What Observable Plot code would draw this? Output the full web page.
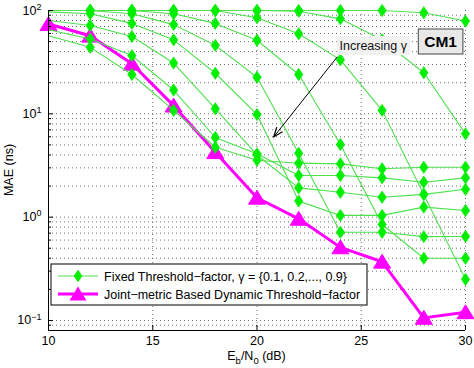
<!DOCTYPE html>
<html><head><meta charset="utf-8">
<script src="https://cdn.jsdelivr.net/npm/d3@7"></script>
<script src="https://cdn.jsdelivr.net/npm/@observablehq/plot@0.6"></script>
<style>
body{margin:0;background:#fff}
svg{font-family:"Liberation Sans",Arial,Helvetica,sans-serif}
</style>
</head><body><div id="chart"></div>
<script>
// ---- data ----
const snr = [10, 12, 14, 16, 18, 20, 22, 24, 26, 28, 30];          // Eb/N0 (dB)
const gammaLevels = [0.1, 0.2, 0.3, 0.4, 0.5, 0.6, 0.7, 0.8, 0.9];
const maeGamma01 = [57, 44, 24, 10.8, 4.75, 3.55, 3.33, 3.28, 2.94, 3.04, 3.04];
const maeGamma02 = [65, 53, 36.6, 17, 5.9, 4.1, 2.53, 2.53, 2.4, 2.18, 2.4];
const maeGamma03 = [80, 71.6, 56, 31, 11.2, 4.0, 1.92, 1.74, 1.56, 1.66, 1.86];
const maeGamma04 = [97, 93, 75, 52, 24.7, 9.84, 1.43, 1.04, 1.04, 1.25, 1.16];
const maeGamma05 = [100, 100, 93, 73, 46, 22.6, 4.16, 0.714, 0.714, 0.648, 0.65];
const maeGamma06 = [100, 100, 100, 93, 75, 51.5, 24, 5.05, 0.85, 0.40, 0.40];
const maeGamma07 = [100, 100, 100, 100, 100, 85, 59.5, 33.3, 10.8, 1.66, 0.25];
const maeGamma08 = [100, 100, 100, 100, 100, 100, 98.5, 83, 52, 25, 6.4];
const maeGamma09 = [100, 100, 100, 100, 100, 100, 100, 100, 100, 95, 79];
const maeJoint   = [74, 57, 30.5, 12, 4.25, 1.54, 0.963, 0.51, 0.37, 0.106, 0.12];
const xTicks = [10, 15, 20, 25, 30];
const yMajorTicks = [0.1, 1, 10, 100];
const yTickExponents = ["\u22121", "0", "1", "2"];
const legendLabels = [
  "Fixed Threshold\u2212factor, \u03b3 = {0.1, 0.2,..., 0.9}",
  "Joint\u2212metric Based Dynamic Threshold\u2212factor"
];
const annotationText = "Increasing \u03b3";
const boxText = "CM1";

// ---- derived tables ----
const fixedSeries = [maeGamma01, maeGamma02, maeGamma03, maeGamma04, maeGamma05,
                     maeGamma06, maeGamma07, maeGamma08, maeGamma09];
const fixedRows = fixedSeries.flatMap((s, i) => snr.map((x, j) => ({x, y: s[j], gamma: gammaLevels[i]})));
const jointRows = snr.map((x, j) => ({x, y: maeJoint[j]}));
const yDomain = [0.08, 100];
const minorY = [];
for (const dec of [0.01, 0.1, 1, 10]) for (let k = 1; k <= 9; k++) {
  const v = +(k * dec).toPrecision(3);
  if (v > yDomain[0] && v <= yDomain[1]) minorY.push(v);
}

// elongated diamond marker (MATLAB 'd') and up-triangle
const tallDiamond = {draw(ctx) { const w = 4.3, h = 6.2;
  ctx.moveTo(0, -h); ctx.lineTo(w, 0); ctx.lineTo(0, h); ctx.lineTo(-w, 0); ctx.closePath(); }};
const triangleUp = {draw(ctx) { const w = 8.5, h = 7.5;
  ctx.moveTo(0, -h); ctx.lineTo(w, h * 0.85); ctx.lineTo(-w, h * 0.85); ctx.closePath(); }};

const GREEN_LINE = "#4ee04e", GREEN_MARK = "#00ee00", MAGENTA = "#ff00ff";
const gridStyle = {stroke: "#555", strokeOpacity: 0.85, strokeDasharray: "1,3", strokeWidth: 1};

const chart = Plot.plot({
  width: 474, height: 368,
  marginLeft: 48, marginRight: 9, marginTop: 10, marginBottom: 38,
  style: {fontFamily: "Liberation Sans, Arial, sans-serif", fontSize: "12px", color: "#000", background: "#fff", overflow: "visible"},
  x: {domain: [10, 30]},
  y: {type: "log", domain: yDomain},
  marks: [
    Plot.ruleY(minorY, gridStyle),
    Plot.ruleX(xTicks.slice(1), gridStyle),
    Plot.line(jointRows, {x: "x", y: "y", stroke: MAGENTA, strokeWidth: 3}),
    Plot.dot(jointRows, {x: "x", y: "y", symbol: triangleUp, fill: MAGENTA, stroke: MAGENTA, strokeWidth: 1}),
    Plot.line(fixedRows, {x: "x", y: "y", z: "gamma", stroke: GREEN_LINE, strokeWidth: 1.1}),
    Plot.dot(fixedRows.filter(d => d.x > snr[0]), {x: "x", y: "y", symbol: tallDiamond, fill: GREEN_MARK, stroke: GREEN_MARK, strokeWidth: 0.5}),
    Plot.ruleX([10], {stroke: "#000"}),
    Plot.ruleY([yDomain[0]], {stroke: "#000"}),
    Plot.axisY({ticks: yMajorTicks, tickSize: -5, fill: "none", label: null}),
    Plot.axisY({ticks: minorY.filter(v => !yMajorTicks.includes(v)), tickSize: -3, fill: "none", label: null}),
    Plot.axisY({ticks: yMajorTicks, tickSize: 0, tickPadding: 7, label: null,
                tickFormat: d => "10^" + yTickExponents[yMajorTicks.indexOf(d)], fontSize: 12.5}),
    Plot.axisX({ticks: xTicks, tickSize: -5, fill: "none", label: null}),
    Plot.axisX({ticks: xTicks, tickSize: 0, tickPadding: 6, label: null, fontSize: 12.5})
  ]
});
document.getElementById("chart").appendChild(chart);

// ---- post: superscripts, labels, legend, annotations ----
const svg = d3.select(chart);
const xs = chart.scale("x"), ys = chart.scale("y");
const X = v => xs.apply(v), Y = v => ys.apply(v);

svg.selectAll('g[aria-label="y-axis tick label"] text').each(function() {
  const t = d3.select(this), s = t.text();
  if (!s.includes("^")) return;
  const [base, exp] = s.split("^");
  t.text(null);
  t.append("tspan").text(base);
  t.append("tspan").attr("dy", "-0.55em").attr("font-size", 9).text(exp);
});

// x label with subscripts
const xl = svg.append("text")
  .attr("x", (xs.range[0] + xs.range[1]) / 2).attr("y", ys.range[0] + 30)
  .attr("text-anchor", "middle").attr("font-size", 12.5).attr("fill", "#000");
xl.append("tspan").text("E");
xl.append("tspan").attr("dy", 3.5).attr("font-size", 9.5).text("b");
xl.append("tspan").attr("dy", -3.5).text("/N");
xl.append("tspan").attr("dy", 3.5).attr("font-size", 9.5).text("0");
xl.append("tspan").attr("dy", -3.5).text(" (dB)");

// y label
svg.append("text")
  .attr("transform", `translate(12.5,${(ys.range[0] + ys.range[1]) / 2}) rotate(-90)`)
  .attr("text-anchor", "middle").attr("font-size", 12.5).attr("fill", "#000").text("MAE (ns)");

// annotation "Increasing gamma" with arrow
const annBox = {x1: 23.85, x2: 27.37, yTop: 56, yBottom: 36.7, tx: 25.6, ty: 45.3};
svg.append("rect").attr("x", X(annBox.x1)).attr("y", Y(annBox.yTop))
  .attr("width", X(annBox.x2) - X(annBox.x1)).attr("height", Y(annBox.yBottom) - Y(annBox.yTop))
  .attr("fill", "#f1f1f1");
svg.append("text").attr("x", X(annBox.tx)).attr("y", Y(annBox.ty)).attr("dy", "0.35em")
  .attr("text-anchor", "middle").attr("font-size", 12.5).attr("fill", "#111").text(annotationText);
const arrow = {x1: 23.88, y1: 35.3, x2: 20.83, y2: 5.93};
{
  const ax1 = X(arrow.x1), ay1 = Y(arrow.y1), ax2 = X(arrow.x2), ay2 = Y(arrow.y2);
  svg.append("line").attr("x1", ax1).attr("y1", ay1).attr("x2", ax2).attr("y2", ay2)
    .attr("stroke", "#000").attr("stroke-width", 1);
  const ang = Math.atan2(ay2 - ay1, ax2 - ax1), L = 10, spread = 0.38;
  const p = a => [ax2 - L * Math.cos(a), ay2 - L * Math.sin(a)];
  const [l1, l2] = [p(ang - spread), p(ang + spread)];
  svg.append("path").attr("d", `M${l1}L${ax2},${ay2}L${l2}`).attr("fill", "none")
    .attr("stroke", "#000").attr("stroke-width", 1.2);
}
// CM1 box
const cmBox = {x1: 27.76, x2: 29.9, yTop: 65.5, yBottom: 37.5, tx: 28.83, ty: 49.6};
svg.append("rect").attr("x", X(cmBox.x1)).attr("y", Y(cmBox.yTop))
  .attr("width", X(cmBox.x2) - X(cmBox.x1)).attr("height", Y(cmBox.yBottom) - Y(cmBox.yTop))
  .attr("fill", "#e8e8e8").attr("stroke", "#444").attr("stroke-width", 1);
svg.append("text").attr("x", X(cmBox.tx)).attr("y", Y(cmBox.ty)).attr("dy", "0.36em")
  .attr("text-anchor", "middle").attr("font-size", 15.5).attr("font-weight", "bold").attr("fill", "#000").text(boxText);

// legend
{
  const lx = xs.range[0] + 3, ly = ys.range[0] - 66, lw = 316, lh = 41;
  const g = svg.append("g");
  g.append("rect").attr("x", lx).attr("y", ly).attr("width", lw).attr("height", lh)
    .attr("fill", "#fff").attr("stroke", "#000").attr("stroke-width", 1);
  const rows = [ly + 12, ly + 30];
  const symPath = sym => { const pth = d3.path(); sym.draw(pth); return pth.toString(); };
  g.append("line").attr("x1", lx + 7).attr("x2", lx + 47).attr("y1", rows[0]).attr("y2", rows[0])
    .attr("stroke", GREEN_LINE).attr("stroke-width", 1.1);
  g.append("path").attr("transform", `translate(${lx + 27},${rows[0]})`).attr("d", symPath(tallDiamond)).attr("fill", GREEN_MARK);
  g.append("line").attr("x1", lx + 7).attr("x2", lx + 47).attr("y1", rows[1]).attr("y2", rows[1])
    .attr("stroke", MAGENTA).attr("stroke-width", 3);
  g.append("path").attr("transform", `translate(${lx + 27},${rows[1]})`).attr("d", symPath(triangleUp)).attr("fill", MAGENTA);
  legendLabels.forEach((t, i) => g.append("text").attr("x", lx + 53).attr("y", rows[i]).attr("dy", "0.36em")
    .attr("text-anchor", "start").attr("font-size", 12.5).attr("fill", "#000").text(t));
}
</script>
</body></html>
